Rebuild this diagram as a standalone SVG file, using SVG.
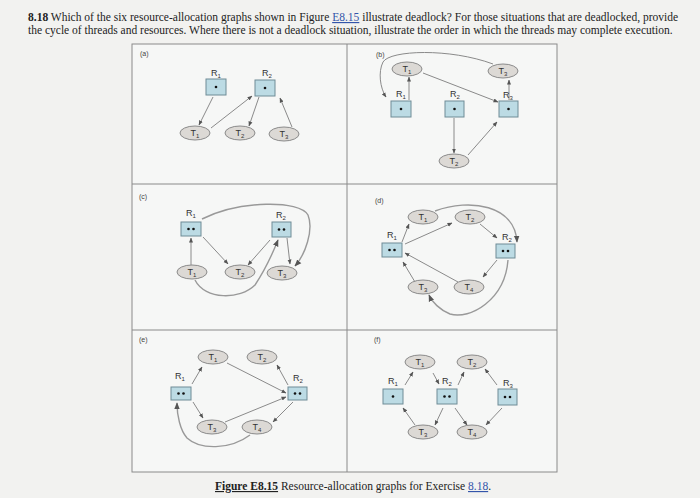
<svg xmlns="http://www.w3.org/2000/svg" width="700" height="498" viewBox="0 0 700 498">
<defs>
<marker id="ah" viewBox="0 0 10 10" refX="9" refY="5" markerWidth="5" markerHeight="5" orient="auto"><path d="M0,1 L10,5 L0,9 z" fill="#555"/></marker>
<style>
.t{fill:#dcd9d5;stroke:#8a8a8a;stroke-width:1}
.r{fill:#bcdbe4;stroke:#6f8c96;stroke-width:1}
.e{fill:none;stroke:#8a8a8a;stroke-width:1;marker-end:url(#ah)}
.c{fill:none;stroke:#999;stroke-width:1.4;marker-end:url(#ah)}
.l{font-family:"Liberation Sans",sans-serif;font-size:9px;fill:#333;text-anchor:middle}
.p{font-family:"Liberation Sans",sans-serif;font-size:7px;fill:#444}
.d{fill:#111}
.h{font-family:"Liberation Serif",serif;font-size:11.5px;fill:#222}
.lk{fill:#3355aa;text-decoration:underline}
</style>
</defs>
<rect width="700" height="498" fill="#f2f2f0"/>
<text class="h" x="28" y="21"><tspan font-weight="bold">8.18</tspan> Which of the six resource-allocation graphs shown in Figure <tspan class="lk">E8.15</tspan> illustrate deadlock? For those situations that are deadlocked, provide</text>
<text class="h" x="28" y="34">the cycle of threads and resources. Where there is not a deadlock situation, illustrate the order in which the threads may complete execution.</text>
<g id="frame" fill="#f6f7f6" stroke="#8a8a8a" stroke-width="1">
<rect x="132" y="44" width="425" height="428"/>
<line x1="347" y1="44" x2="347" y2="472"/>
<line x1="132" y1="184" x2="557" y2="184"/>
<line x1="132" y1="330" x2="557" y2="330"/>
</g>
<g id="panel-labels" class="p">
<text x="140" y="56">(a)</text><text x="376" y="57">(b)</text>
<text x="139" y="199">(c)</text><text x="375" y="203">(d)</text>
<text x="139" y="342">(e)</text><text x="374" y="342">(f)</text>
</g>
<g id="connectors">
<!-- a -->
<line class="e" x1="213" y1="97" x2="199" y2="125"/>
<line class="e" x1="211" y1="128" x2="252" y2="96"/>
<line class="e" x1="259" y1="97" x2="249" y2="126"/>
<line class="e" x1="292" y1="127" x2="280" y2="98"/>
<!-- b -->
<line class="e" x1="409" y1="100" x2="409" y2="77"/>
<line class="e" x1="423" y1="73" x2="498" y2="102"/>
<line class="e" x1="509" y1="100" x2="509" y2="80"/>
<path class="e" d="M493,64 C450,48 390,50 383,62 C378,72 380,88 386,97"/>
<line class="e" x1="454" y1="118" x2="454" y2="153"/>
<line class="e" x1="468" y1="155" x2="497" y2="122"/>
<!-- c -->
<line class="e" x1="191" y1="265" x2="191" y2="238"/>
<line class="e" x1="203" y1="237" x2="228" y2="264"/>
<line class="e" x1="270" y1="240" x2="248" y2="265"/>
<line class="e" x1="287" y1="238" x2="290" y2="264"/>
<path class="c" d="M202,219 C240,200 300,200 308,215 C314,230 305,255 295,266"/>
<path class="c" d="M195,280 C205,300 240,300 255,285 C265,270 272,255 278,240"/>
<!-- d -->
<line class="e" x1="402" y1="242" x2="409" y2="224"/>
<line class="e" x1="405" y1="244" x2="452" y2="223"/>
<line class="e" x1="480" y1="224" x2="497" y2="238"/>
<path class="c" d="M435,211 C470,198 515,205 517,242"/>
<line class="e" x1="497" y1="260" x2="483" y2="277"/>
<line class="e" x1="458" y1="282" x2="405" y2="253"/>
<line class="e" x1="415" y1="282" x2="403" y2="262"/>
<path class="c" d="M508,260 C505,300 470,320 450,314 C440,310 432,302 429,295"/>
<!-- e -->
<line class="e" x1="192" y1="384" x2="202" y2="367"/>
<line class="e" x1="227" y1="363" x2="286" y2="393"/>
<line class="e" x1="288" y1="385" x2="277" y2="365"/>
<line class="e" x1="193" y1="402" x2="203" y2="418"/>
<line class="e" x1="225" y1="422" x2="286" y2="397"/>
<line class="e" x1="293" y1="402" x2="273" y2="422"/>
<path class="c" d="M250,435 C230,450 200,450 187,438 C180,430 177,415 177,403"/>
<!-- f -->
<line class="e" x1="405" y1="385" x2="413" y2="372"/>
<line class="e" x1="433" y1="373" x2="439" y2="384"/>
<line class="e" x1="458" y1="385" x2="464" y2="372"/>
<line class="e" x1="497" y1="385" x2="485" y2="369"/>
<line class="e" x1="415" y1="425" x2="403" y2="408"/>
<line class="e" x1="443" y1="408" x2="435" y2="425"/>
<line class="e" x1="455" y1="408" x2="467" y2="425"/>
<line class="e" x1="502" y1="408" x2="486" y2="425"/>
</g>
<!-- panel a -->
<g id="a-R1"><rect class="r" x="206" y="79" width="20" height="16"/><circle class="d" cx="216" cy="87" r="1.3"/><text class="l" x="216" y="76">R<tspan font-size="6" dy="2">1</tspan></text></g>
<g id="a-R2"><rect class="r" x="255" y="80" width="20" height="16"/><circle class="d" cx="265" cy="88" r="1.3"/><text class="l" x="267" y="76">R<tspan font-size="6" dy="2">2</tspan></text></g>
<g id="a-T1"><ellipse class="t" cx="195" cy="133" rx="15" ry="7"/><text class="l" x="195" y="136">T<tspan font-size="6" dy="2">1</tspan></text></g>
<g id="a-T2"><ellipse class="t" cx="240" cy="133" rx="15" ry="7"/><text class="l" x="240" y="136">T<tspan font-size="6" dy="2">2</tspan></text></g>
<g id="a-T3"><ellipse class="t" cx="284" cy="134" rx="15" ry="7"/><text class="l" x="284" y="137">T<tspan font-size="6" dy="2">3</tspan></text></g>
<!-- panel b -->
<g id="b-T1"><ellipse class="t" cx="407" cy="69" rx="15" ry="7"/><text class="l" x="407" y="72">T<tspan font-size="6" dy="2">1</tspan></text></g>
<g id="b-T3"><ellipse class="t" cx="503" cy="71" rx="15" ry="7"/><text class="l" x="503" y="74">T<tspan font-size="6" dy="2">3</tspan></text></g>
<g id="b-R1"><rect class="r" x="391" y="101" width="20" height="16"/><circle class="d" cx="401" cy="109" r="1.3"/><text class="l" x="401" y="97">R<tspan font-size="6" dy="2">1</tspan></text></g>
<g id="b-R2"><rect class="r" x="445" y="101" width="19" height="16"/><circle class="d" cx="454.5" cy="109" r="1.3"/><text class="l" x="455" y="97">R<tspan font-size="6" dy="2">2</tspan></text></g>
<g id="b-R3"><rect class="r" x="499" y="101" width="19" height="16"/><circle class="d" cx="508.5" cy="109" r="1.3"/><text class="l" x="508" y="98">R<tspan font-size="6" dy="2">3</tspan></text></g>
<g id="b-T2"><ellipse class="t" cx="454" cy="161" rx="15" ry="7"/><text class="l" x="454" y="164">T<tspan font-size="6" dy="2">2</tspan></text></g>
<!-- panel c -->
<g id="c-R1"><rect class="r" x="181" y="222" width="20" height="14"/><circle class="d" cx="188.5" cy="229" r="1.3"/><circle class="d" cx="193.5" cy="229" r="1.3"/><text class="l" x="191" y="216">R<tspan font-size="6" dy="2">1</tspan></text></g>
<g id="c-R2"><rect class="r" x="272" y="222" width="19" height="15"/><circle class="d" cx="279" cy="229.5" r="1.3"/><circle class="d" cx="284" cy="229.5" r="1.3"/><text class="l" x="281" y="218">R<tspan font-size="6" dy="2">2</tspan></text></g>
<g id="c-T1"><ellipse class="t" cx="192" cy="272" rx="15" ry="7"/><text class="l" x="192" y="275">T<tspan font-size="6" dy="2">1</tspan></text></g>
<g id="c-T2"><ellipse class="t" cx="240" cy="272" rx="15" ry="7"/><text class="l" x="240" y="275">T<tspan font-size="6" dy="2">2</tspan></text></g>
<g id="c-T3"><ellipse class="t" cx="282" cy="273" rx="15" ry="7"/><text class="l" x="282" y="276">T<tspan font-size="6" dy="2">3</tspan></text></g>
<!-- panel d -->
<g id="d-T1"><ellipse class="t" cx="423" cy="217" rx="15" ry="7"/><text class="l" x="423" y="220">T<tspan font-size="6" dy="2">1</tspan></text></g>
<g id="d-T2"><ellipse class="t" cx="470" cy="217" rx="15" ry="7"/><text class="l" x="470" y="220">T<tspan font-size="6" dy="2">2</tspan></text></g>
<g id="d-R1"><rect class="r" x="382" y="243" width="20" height="14"/><circle class="d" cx="389.5" cy="250" r="1.3"/><circle class="d" cx="394.5" cy="250" r="1.3"/><text class="l" x="392" y="238">R<tspan font-size="6" dy="2">1</tspan></text></g>
<g id="d-R2"><rect class="r" x="496" y="244" width="19" height="14"/><circle class="d" cx="503" cy="251" r="1.3"/><circle class="d" cx="508" cy="251" r="1.3"/><text class="l" x="507" y="240">R<tspan font-size="6" dy="2">2</tspan></text></g>
<g id="d-T3"><ellipse class="t" cx="423" cy="287" rx="15" ry="7"/><text class="l" x="423" y="290">T<tspan font-size="6" dy="2">3</tspan></text></g>
<g id="d-T4"><ellipse class="t" cx="469" cy="287" rx="15" ry="7"/><text class="l" x="469" y="290">T<tspan font-size="6" dy="2">4</tspan></text></g>
<!-- panel e -->
<g id="e-T1"><ellipse class="t" cx="213" cy="357" rx="15" ry="7"/><text class="l" x="213" y="360">T<tspan font-size="6" dy="2">1</tspan></text></g>
<g id="e-T2"><ellipse class="t" cx="262" cy="357" rx="15" ry="7"/><text class="l" x="262" y="360">T<tspan font-size="6" dy="2">2</tspan></text></g>
<g id="e-R1"><rect class="r" x="171" y="387" width="20" height="13"/><circle class="d" cx="178.5" cy="393.5" r="1.3"/><circle class="d" cx="183.5" cy="393.5" r="1.3"/><text class="l" x="180" y="379">R<tspan font-size="6" dy="2">1</tspan></text></g>
<g id="e-R2"><rect class="r" x="288" y="387" width="19" height="13"/><circle class="d" cx="295" cy="393.5" r="1.3"/><circle class="d" cx="300" cy="393.5" r="1.3"/><text class="l" x="298" y="381">R<tspan font-size="6" dy="2">2</tspan></text></g>
<g id="e-T3"><ellipse class="t" cx="212" cy="427" rx="15" ry="7"/><text class="l" x="212" y="430">T<tspan font-size="6" dy="2">3</tspan></text></g>
<g id="e-T4"><ellipse class="t" cx="257" cy="427" rx="15" ry="7"/><text class="l" x="257" y="430">T<tspan font-size="6" dy="2">4</tspan></text></g>
<!-- panel f -->
<g id="f-T1"><ellipse class="t" cx="420" cy="362" rx="15" ry="7"/><text class="l" x="420" y="365">T<tspan font-size="6" dy="2">1</tspan></text></g>
<g id="f-T2"><ellipse class="t" cx="472" cy="362" rx="15" ry="7"/><text class="l" x="472" y="365">T<tspan font-size="6" dy="2">2</tspan></text></g>
<g id="f-R1"><rect class="r" x="383" y="389" width="20" height="15"/><circle class="d" cx="393" cy="396.5" r="1.3"/><text class="l" x="393" y="384">R<tspan font-size="6" dy="2">1</tspan></text></g>
<g id="f-R2"><rect class="r" x="437" y="389" width="20" height="15"/><circle class="d" cx="444.5" cy="396.5" r="1.3"/><circle class="d" cx="449.5" cy="396.5" r="1.3"/><text class="l" x="447" y="384">R<tspan font-size="6" dy="2">2</tspan></text></g>
<g id="f-R3"><rect class="r" x="498" y="389" width="19" height="16"/><circle class="d" cx="505" cy="397" r="1.3"/><circle class="d" cx="510" cy="397" r="1.3"/><text class="l" x="508" y="386">R<tspan font-size="6" dy="2">3</tspan></text></g>
<g id="f-T3"><ellipse class="t" cx="423" cy="432" rx="15" ry="7"/><text class="l" x="423" y="435">T<tspan font-size="6" dy="2">3</tspan></text></g>
<g id="f-T4"><ellipse class="t" cx="472" cy="432" rx="15" ry="7"/><text class="l" x="472" y="435">T<tspan font-size="6" dy="2">4</tspan></text></g>
<text class="h" x="215" y="490" font-size="11"><tspan font-weight="bold" text-decoration="underline">Figure E8.15</tspan> Resource-allocation graphs for Exercise <tspan class="lk">8.18</tspan>.</text>
</svg>
